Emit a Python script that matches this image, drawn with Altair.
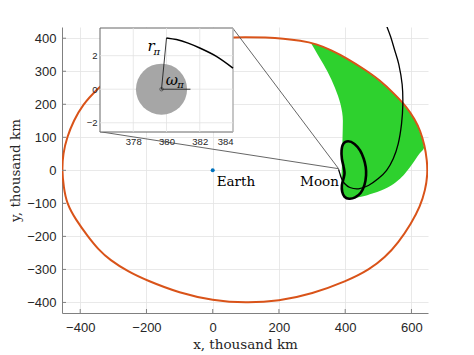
import math
import altair as alt
import pandas as pd

# ---------------- data (thousand km) ----------------
# orange boundary curve (closed)
ell_x = [-455, -450, -441, -413, -377, -345, -311, -255, -200, -100, 0, 100, 200, 300, 404, 474, 520, 560,
         600, 626, 642, 649, 647, 640, 627, 610, 585, 548, 505, 455, 404, 360, 313, 265, 213, 160, 100,
         30, -50, -150, -230, -300, -350, -392, -420, -440, -452]
ell_y = [0, -50, -100, -150, -200, -240, -271, -307, -333, -372, -394, -402, -396, -374, -336, -300, -264, -220,
         -160, -110, -60, -10, 30, 75, 120, 155, 193, 232, 273, 308, 340, 363, 383, 393, 399, 402, 404,
         402, 395, 374, 340, 290, 245, 200, 150, 100, 50]

# green region: for each y, left and right x
green_y = [-86, -80, -70, -60, -45, -30, -10, 10, 30, 50, 68, 100, 150, 200, 250, 300, 340, 370, 386]
green_xl = [412, 398, 392, 390, 389, 389, 389, 390, 390, 390, 391, 392, 393, 386, 369, 346, 323, 306, 296]
green_xr = [418, 448, 482, 510, 540, 560, 580, 596, 610, 624, 638, 631, 611, 576, 527, 465, 402, 342, 298]

# thin black trajectory
traj_x = [380, 384, 389, 398, 414, 440, 470, 500, 525, 545, 560, 570, 574, 572, 562, 549, 537, 522]
traj_y = [3, -10, -25, -40, -52, -56, -46, -25, 0, 35, 80, 140, 200, 260, 320, 365, 405, 445]

# thick black closed curve around the Moon
bean_x = [409, 428, 445, 456, 462, 463, 458, 447, 430, 412, 398, 391, 390, 395, 398, 395, 390, 389, 394]
bean_y = [88, 80, 60, 35, 10, -15, -45, -68, -82, -86, -80, -65, -45, -25, -8, 12, 35, 60, 80]

# connector lines (inset corner -> Moon -> inset corner)
conn_x = [61, 380, -341]
conn_y = [430, 5, 117]

x_ticks = [-400, -200, 0, 200, 400, 600]
y_ticks = [-400, -300, -200, -100, 0, 100, 200, 300, 400]

# inset
moon_x, moon_y, moon_r = 379.7, 0.0, 1.737
peri_x = [380.0, 380.6, 381.3, 382.0, 383.0, 384.0]
peri_y = [3.06, 2.96, 2.75, 2.46, 1.96, 1.26]
rad_x = [379.7, 380.0]
rad_y = [0.0, 3.06]
hor_x = [379.7, 381.44]
hor_y = [0.0, 0.0]
inset_xticks = [378, 380, 382, 384]
inset_yticks = [-2, 0, 2]

# ---------------- layout ----------------
W, H = 366, 286
XD = [-455, 650]
YD = [-432, 434]
IXD = [376, 384]
IYD = [-2.55, 3.65]
IX_RANGE = [38, 171]
IY_RANGE = [105, 1]

SERIF = "DejaVu Serif"
SANS = "Liberation Sans"
GRID = "#e3e3e3"
AX = "#808080"

xs = alt.Scale(domain=XD, nice=False, zero=False)
ys = alt.Scale(domain=YD, nice=False, zero=False)
ixs = alt.Scale(domain=IXD, range=IX_RANGE, nice=False, zero=False)
iys = alt.Scale(domain=IYD, range=IY_RANGE, nice=False, zero=False)

x_axis = alt.Axis(values=x_ticks, orient="bottom", grid=True, gridColor=GRID, gridWidth=0.8, domainColor=AX,
                  domainWidth=1, ticks=False, labelPadding=8, labelFont=SANS, labelFontSize=13,
                  labelColor="#262626", title="x, thousand km", titleFont=SERIF, titleFontSize=13.5,
                  titleFontWeight="normal", titleColor="#262626", titlePadding=3)
y_axis = alt.Axis(values=y_ticks, orient="left", grid=True, gridColor=GRID, gridWidth=0.8, domainColor=AX,
                  domainWidth=1, ticks=False, labelPadding=6, labelFont=SANS, labelFontSize=13,
                  labelColor="#262626", title="y, thousand km", titleFont=SERIF, titleFontSize=13.5,
                  titleFontWeight="normal", titleColor="#262626", titlePadding=4)


def X(f, axis=None):
    return alt.X(f, type="quantitative", scale=xs, axis=axis)


def Y(f, axis=None):
    return alt.Y(f, type="quantitative", scale=ys, axis=axis)


def IX(f, axis=None):
    return alt.X(f, type="quantitative", scale=ixs, axis=axis)


def IY(f, axis=None):
    return alt.Y(f, type="quantitative", scale=iys, axis=axis)


axes_layer = alt.Chart(pd.DataFrame({"x": [0], "y": [0]})).mark_point(opacity=0).encode(
    x=X("x", x_axis), y=Y("y", y_axis))

green = alt.Chart(pd.DataFrame({"y": green_y, "xl": green_xl, "xr": green_xr})).mark_area(
    orient="horizontal", color="#2ed12e", opacity=1, interpolate="monotone"
).encode(y=Y("y"), x=X("xl"), x2="xr")

ell = alt.Chart(pd.DataFrame({"x": ell_x, "y": ell_y, "i": range(len(ell_x))})).mark_line(
    color="#d95319", strokeWidth=2, interpolate="basis-closed", clip=True
).encode(x=X("x"), y=Y("y"), order="i:Q")

traj = alt.Chart(pd.DataFrame({"x": traj_x, "y": traj_y, "i": range(len(traj_x))})).mark_line(
    color="black", strokeWidth=1.3, interpolate="cardinal", clip=True
).encode(x=X("x"), y=Y("y"), order="i:Q")

bean = alt.Chart(pd.DataFrame({"x": bean_x, "y": bean_y, "i": range(len(bean_x))})).mark_line(
    color="black", strokeWidth=2.6, interpolate="cardinal-closed", clip=True
).encode(x=X("x"), y=Y("y"), order="i:Q")

conn = alt.Chart(pd.DataFrame({"x": conn_x, "y": conn_y, "i": range(len(conn_x))})).mark_line(
    color="#555555", strokeWidth=0.9
).encode(x=X("x"), y=Y("y"), order="i:Q")

earth_pt = alt.Chart(pd.DataFrame({"x": [0], "y": [0]})).mark_circle(
    color="#0072bd", size=16, opacity=1
).encode(x=X("x"), y=Y("y"))

labels = alt.Chart(pd.DataFrame({"x": [12], "y": [-34], "t": ["Earth"]})).mark_text(
    font=SERIF, fontSize=13.5, align="left", baseline="middle", color="black"
).encode(x=X("x"), y=Y("y"), text="t:N")

moon_lbl = alt.Chart(pd.DataFrame({"x": [381], "y": [-36], "t": ["Moon"]})).mark_text(
    font=SERIF, fontSize=13.5, align="right", baseline="middle", color="black"
).encode(x=X("x"), y=Y("y"), text="t:N")

xt = alt.Chart(pd.DataFrame({"v": x_ticks})).mark_rule(color=AX, strokeWidth=1).encode(
    x=X("v"), y=alt.value(H), y2=alt.value(H - 4))
yt = alt.Chart(pd.DataFrame({"v": y_ticks})).mark_rule(color=AX, strokeWidth=1).encode(
    y=Y("v"), x=alt.value(0), x2=alt.value(4))

# ---------------- inset ----------------
ix_axis = alt.Axis(values=inset_xticks, orient="bottom", offset=-(H - IY_RANGE[0]), grid=False, domain=False,
                   ticks=False, labelPadding=4, labelFont=SANS, labelFontSize=9.5, labelColor="#262626",
                   title=None, zindex=1)
iy_axis = alt.Axis(values=inset_yticks, orient="left", offset=-IX_RANGE[0], grid=False, domain=False,
                   ticks=False, labelPadding=3, labelFont=SANS, labelFontSize=9.5, labelColor="#262626",
                   title=None, zindex=1)

bg = alt.Chart(pd.DataFrame({"x": [IXD[0]], "x2": [IXD[1]], "y": [IYD[0]], "y2": [IYD[1]]})).mark_rect(
    fill="white", stroke="#666666", strokeWidth=1
).encode(x=IX("x"), x2="x2", y=IY("y"), y2="y2")

igv = alt.Chart(pd.DataFrame({"v": inset_xticks, "lo": IYD[0], "hi": IYD[1]})).mark_rule(
    color=GRID, strokeWidth=0.8).encode(x=IX("v"), y=IY("lo"), y2="hi")
igh = alt.Chart(pd.DataFrame({"v": inset_yticks, "lo": IXD[0], "hi": IXD[1]})).mark_rule(
    color=GRID, strokeWidth=0.8).encode(y=IY("v"), x=IX("lo"), x2="hi")

px_per_unit = (IX_RANGE[1] - IX_RANGE[0]) / (IXD[1] - IXD[0])
moon_size = math.pi * (moon_r * px_per_unit) ** 2
moon_disk = alt.Chart(pd.DataFrame({"x": [moon_x], "y": [moon_y]})).mark_circle(
    color="#a6a6a6", size=moon_size, opacity=1
).encode(x=IX("x", ix_axis), y=IY("y", iy_axis))

lines_df = pd.DataFrame({
    "x": rad_x + hor_x, "y": rad_y + hor_y,
    "g": ["r", "r", "w", "w"], "i": [0, 1, 0, 1]})
ilines = alt.Chart(lines_df).mark_line(color="#222222", strokeWidth=0.9).encode(
    x=IX("x"), y=IY("y"), detail="g:N", order="i:Q")

peri = alt.Chart(pd.DataFrame({"x": peri_x, "y": peri_y})).mark_line(
    color="black", strokeWidth=1.5, interpolate="monotone"
).encode(x=IX("x"), y=IY("y"))

cpt = alt.Chart(pd.DataFrame({"x": [moon_x], "y": [moon_y]})).mark_point(
    shape="circle", filled=False, size=12, color="#222222", strokeWidth=0.8
).encode(x=IX("x"), y=IY("y"))

sym_df = pd.DataFrame({
    "x": [378.85, 379.95], "y": [2.3, 0.26], "t": ["r", "ω"]})
syms = alt.Chart(sym_df).mark_text(
    font=SERIF, fontSize=15, fontStyle="italic", align="left", baseline="alphabetic", color="black"
).encode(x=IX("x"), y=IY("y"), text="t:N")
sub_df = pd.DataFrame({"x": [379.22, 380.65], "y": [2.05, 0.06], "t": ["π", "π"]})
subs = alt.Chart(sub_df).mark_text(
    font=SERIF, fontSize=10, fontStyle="italic", align="left", baseline="alphabetic", color="black"
).encode(x=IX("x"), y=IY("y"), text="t:N")

chart = alt.layer(
    axes_layer, green, ell, traj, bean, conn, earth_pt, labels, moon_lbl, xt, yt,
    bg, igv, igh, moon_disk, ilines, peri, cpt, syms, subs
).resolve_scale(x="independent", y="independent").properties(
    width=W, height=H,
    padding={"left": 62, "top": 27, "right": 474 - 62 - W, "bottom": 355 - 27 - H},
    autosize=alt.AutoSizeParams(type="none"),
).configure_view(stroke=None)

chart.save("out.html", embed_options={"renderer": "svg", "actions": False})
